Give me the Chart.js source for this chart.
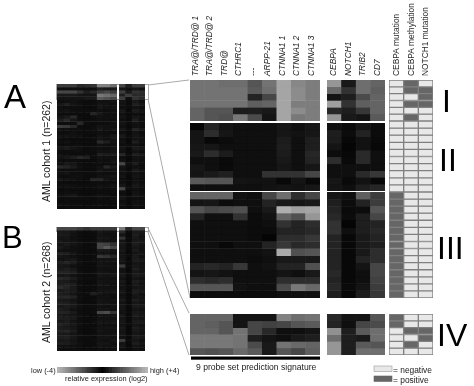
<!DOCTYPE html>
<html>
<head>
<meta charset="utf-8">
<script src="https://cdn.jsdelivr.net/npm/chart.js@4"></script>
<style>
html,body{margin:0;padding:0;background:#fff;width:474px;height:386px;overflow:hidden}
#stage{position:absolute;left:0;top:0;width:474px;height:386px;filter:blur(0.55px);font-family:"Liberation Sans",Arial,sans-serif;color:#1a1a1a}
canvas{position:absolute}
.t{position:absolute;white-space:nowrap;line-height:1}
.v{position:absolute;white-space:nowrap;line-height:1;transform-origin:0 0;transform:rotate(-90deg)}
svg{position:absolute;left:0;top:0}
</style>
</head>
<body>
<div id="stage">
<svg width="474" height="386">
<g stroke="#aaa" stroke-width="1" fill="none">
<rect x="56.5" y="84.5" width="92" height="15"/>
<rect x="56.5" y="227.5" width="92" height="4"/>
<line x1="148" y1="85" x2="189" y2="80"/>
<line x1="148" y1="99" x2="190" y2="298"/>
<line x1="148" y1="228" x2="189" y2="313"/>
<line x1="148" y1="232" x2="189" y2="355"/>
</g>
<rect x="191" y="356.500" width="129" height="3.200" fill="#000"/>
<rect x="374" y="366" width="18" height="5.500" fill="#e8e8e8" stroke="#999" stroke-width="0.6"/>
<rect x="374" y="376" width="18" height="5.500" fill="#666" stroke="#666" stroke-width="0.6"/>
</svg>
<div class="t" style="left:4px;top:80px;font-size:33px;color:#000">A</div>
<div class="t" style="left:2px;top:222px;font-size:31px;color:#000">B</div>
<div class="v" style="left:41px;top:202px;font-size:10.5px">AML cohort 1 (n=262)</div>
<div class="v" style="left:41px;top:343px;font-size:10.5px">AML cohort 2 (n=268)</div>
<div class="t" style="left:442px;top:85px;font-size:32px;color:#000">I</div>
<div class="t" style="left:439px;top:144px;font-size:32px;color:#000">II</div>
<div class="t" style="left:437px;top:232px;font-size:32px;color:#000">III</div>
<div class="t" style="left:437px;top:319px;font-size:32px;color:#000">IV</div>
<div class="t" style="left:196px;top:363px;font-size:8.6px">9 probe set prediction signature</div>
<div class="t" style="left:393px;top:366px;font-size:8.4px">= negative</div>
<div class="t" style="left:393px;top:376px;font-size:8.4px">= positive</div>
<div class="t" style="left:31px;top:367px;font-size:7.4px">low (-4)</div>
<div class="t" style="left:150px;top:367px;font-size:7.4px">high (+4)</div>
<div class="t" style="left:65px;top:375px;font-size:7.4px">relative expression (log2)</div>
</div>
<script>
// Categories
const signatureProbes = ['TRA@/TRD@ 1','TRA@/TRD@ 2','TRD@','CTHRC1','---','ARPP-21','CTNNA1 1','CTNNA1 2','CTNNA1 3'];
const geneProbes = ['CEBPA','NOTCH1','TRIB2','CD7'];
const lesionLabels = ['CEBPA mutation','CEBPA methylation','NOTCH1 mutation'];

// Cluster I-IV: signature probes (display intensity per cell)
const sigI = [
[115,115,110,110,85,115,165,135,125],
[115,115,115,115,90,110,165,140,125],
[115,115,115,115,35,70,165,140,125],
[115,115,115,115,95,100,165,125,125],
[100,85,85,28,30,25,165,140,125],
[100,85,80,120,75,20,165,120,125]];
const sigII = [
[5,35,20,15,15,15,22,15,22],
[20,45,22,15,15,15,22,18,22],
[20,8,12,15,15,15,28,15,30],
[22,22,15,15,15,15,30,15,30],
[25,45,28,15,15,15,28,15,38],
[15,15,10,15,15,15,25,15,35],
[22,15,10,15,15,15,22,15,22],
[20,25,32,15,15,50,50,50,70],
[90,85,85,20,18,18,8,20,8],
[15,15,15,15,15,18,20,18,22]];
const sigIII = [
[100,100,100,18,15,70,110,45,70],
[20,22,12,15,15,35,25,22,25],
[85,70,75,80,15,25,175,160,165],
[35,15,15,50,12,18,100,80,150],
[15,15,15,15,12,15,50,35,45],
[15,15,15,15,12,12,35,35,40],
[15,15,15,15,12,5,45,45,55],
[15,15,8,15,15,35,55,40,45],
[15,15,15,15,15,18,170,80,85],
[15,15,15,15,12,15,25,25,25],
[35,40,35,55,15,18,35,35,80],
[20,22,18,15,15,15,20,15,25],
[45,40,45,15,15,15,45,45,45],
[85,85,85,18,15,15,75,120,105],
[12,12,12,12,12,12,15,15,15]];
const sigIV = [
[100,100,100,20,20,20,130,110,115],
[100,95,85,20,70,65,70,85,90],
[100,100,85,115,70,40,15,15,20],
[120,120,120,115,30,20,15,25,30],
[120,120,120,115,75,25,115,105,100],
[85,80,85,105,90,25,85,70,95]];

// Cluster I-IV: marker genes
const genI = [[150,25,110,100],[105,50,110,95],[20,30,75,100],[160,50,95,100],[40,30,55,100],[150,25,20,90]];
const genII = [[15,10,22,12],[30,12,35,12],[28,8,18,10],[20,5,18,8],[12,8,42,15],[45,10,42,15],[15,15,15,15],[15,15,42,55],[22,10,18,8],[20,15,30,38]];
const genIII = [[22,15,95,60],[30,12,35,60],[35,10,12,85],[40,12,30,70],[50,5,30,35],[50,15,30,40],[35,8,25,35],[35,8,25,30],[35,8,25,45],[35,8,35,45],[35,8,20,70],[40,8,15,70],[35,8,15,65],[40,10,20,60],[30,8,30,55]];
const genIV = [[40,20,20,85],[35,15,70,75],[145,30,90,110],[110,30,25,110],[150,30,90,85],[150,30,110,110]];

// Cluster I-IV: lesion status (1 = positive, 0 = negative)
const lesI = [[0,1,0],[0,1,1],[0,0,1],[0,1,1],[0,0,0],[0,1,0]];
const lesII = [[0,0,0],[0,0,0],[0,0,0],[0,0,0],[0,0,0],[0,0,0],[0,0,0],[0,0,0],[0,0,0],[0,0,0]];
const lesIII = [[1,0,0],[1,0,0],[1,0,0],[1,0,0],[1,0,0],[1,0,0],[1,0,0],[1,0,0],[1,0,0],[1,0,0],[1,0,0],[1,0,0],[1,0,0],[1,0,0],[1,0,0]];
const lesIV = [[1,0,0],[1,0,0],[0,1,1],[0,0,1],[0,1,0],[0,0,0]];

// Overview cohort 1 (9 signature + 4 gene columns)
const overviewA = [
[60,60,60,40,45,50,130,130,110,70,30,60,60],
[15,15,15,15,15,15,30,25,25,20,15,20,15],
[70,70,70,50,30,40,60,70,60,60,25,50,45],
[25,25,25,20,20,20,120,110,100,30,60,40,40],
[20,20,20,20,25,25,90,80,70,60,15,50,40],
[14,16,18,14,12,12,18,16,20,20,12,24,16],
[22,30,20,16,12,14,20,18,16,18,10,30,22],
[16,14,14,14,12,12,22,18,20,14,12,18,14],
[18,20,16,14,14,14,16,14,18,24,10,26,20],
[14,14,12,12,12,36,24,16,18,16,10,14,12],
[20,26,40,14,12,14,18,16,20,20,12,22,18],
[30,40,22,14,12,14,16,16,16,14,10,30,16],
[14,14,14,40,14,12,14,14,18,20,12,18,14],
[60,56,40,14,12,14,20,18,18,16,10,16,14],
[16,16,14,14,12,14,24,18,22,22,12,34,24],
[14,14,16,14,14,14,16,14,14,14,10,18,12],
[18,20,18,16,12,12,18,16,24,24,12,20,14],
[14,12,12,12,12,14,20,16,22,16,10,18,16],
[16,18,14,14,14,14,42,30,20,18,10,30,18],
[12,14,14,14,12,12,16,14,16,14,12,16,12],
[22,26,20,16,12,14,16,14,18,20,10,24,22],
[14,14,14,14,12,14,18,16,20,16,10,18,14],
[16,14,12,12,14,12,30,26,28,36,12,30,24],
[20,24,30,40,34,14,18,16,18,14,10,18,16],
[14,14,14,12,12,12,16,14,20,18,10,18,14],
[16,24,22,14,12,14,14,14,16,70,16,28,14],
[40,36,28,16,14,14,18,40,26,20,12,16,14],
[14,14,14,14,12,12,20,16,18,18,10,26,18],
[18,20,14,14,14,14,16,14,16,16,12,18,14],
[14,14,16,16,12,12,18,18,22,20,10,20,16],
[22,20,18,14,12,36,36,20,18,14,10,16,12],
[14,12,12,12,12,14,14,14,16,16,10,18,14],
[16,18,16,14,14,14,18,16,22,22,12,24,18],
[12,14,14,14,12,12,16,14,18,70,14,16,14],
[14,16,14,12,12,12,14,14,16,14,10,18,14],
[18,20,22,14,12,14,18,16,14,16,10,20,16],
[14,14,14,14,14,12,16,14,18,20,12,14,12],
[12,14,12,12,12,12,14,14,16,14,10,16,14],
[16,16,14,14,12,14,16,14,14,18,10,18,14],
[12,12,12,12,12,12,12,12,14,12,10,14,12]];

// Overview cohort 2
const overviewB = [
[70,70,70,60,50,60,60,60,60,120,40,70,70],
[24,24,20,14,12,14,24,20,20,40,12,26,24],
[28,26,18,14,12,14,20,18,18,20,10,30,20],
[20,22,16,14,12,12,24,22,18,50,12,24,18],
[24,20,18,14,12,14,22,18,20,20,10,24,24],
[20,26,20,16,12,12,70,64,50,24,12,28,20],
[26,20,16,14,12,14,70,90,70,20,12,22,18],
[18,16,16,14,12,12,26,24,22,24,10,26,18],
[34,30,22,14,12,14,20,20,18,18,10,20,22],
[22,20,16,14,12,12,56,50,40,20,12,26,16],
[18,22,24,14,12,14,18,18,20,22,10,28,24],
[30,36,28,16,12,12,20,18,18,18,10,20,18],
[24,22,16,14,12,14,22,20,20,60,14,24,20],
[26,30,24,14,12,12,18,16,18,20,10,30,22],
[36,34,30,16,12,14,20,18,16,18,10,22,18],
[22,24,18,14,12,12,22,20,22,24,12,26,24],
[40,36,28,16,14,14,18,18,16,18,10,20,16],
[28,26,20,14,12,12,20,18,20,24,10,28,22],
[30,34,30,16,12,14,22,20,18,20,10,24,18],
[44,36,26,14,12,12,18,16,18,18,12,20,20],
[26,30,26,14,12,14,20,20,22,22,10,28,24],
[30,26,20,14,14,30,22,18,18,20,10,24,16],
[38,40,34,16,12,12,18,18,16,18,10,20,20],
[26,24,20,14,12,14,20,18,20,26,12,30,22],
[32,30,24,14,12,12,22,20,18,18,10,22,18],
[24,28,24,16,12,14,18,16,20,22,10,26,24],
[30,26,18,14,12,12,20,20,18,20,10,20,16],
[36,34,26,14,12,14,70,76,50,18,12,24,20],
[26,24,22,16,14,12,20,18,20,24,10,28,22],
[30,30,26,14,12,12,18,18,18,20,10,22,18],
[24,28,20,14,12,14,22,20,22,22,10,26,24],
[34,30,24,16,12,12,18,16,16,18,12,20,16],
[28,26,22,14,12,14,20,20,20,24,10,28,22],
[36,38,28,14,12,12,22,18,18,20,10,24,20],
[26,24,20,16,12,14,18,18,20,22,10,22,18],
[30,32,24,14,14,12,20,20,18,18,10,26,24],
[24,26,20,14,12,14,18,16,22,60,14,22,16],
[30,28,22,16,12,12,22,20,18,20,10,28,22],
[18,18,16,14,12,14,20,18,20,22,10,20,18],
[16,14,14,12,12,12,14,14,16,14,10,16,14]];

// Colour scale legend
const scaleValues = [-4,-3.75,-3.5,-3.25,-3,-2.75,-2.5,-2.25,-2,-1.75,-1.5,-1.25,-1,-0.75,-0.5,-0.25,0,0.25,0.5,0.75,1,1.25,1.5,1.75,2,2.25,2.5,2.75,3,3.25,3.5,3.75,4];

const gray = v => `rgb(${v},${v},${v})`;
const stage = document.getElementById('stage');

function heatmap(box, columns, rows, opt) {
  opt = opt || {};
  const cv = document.createElement('canvas');
  cv.width = box.w; cv.height = box.h;
  cv.style.left = box.x + 'px'; cv.style.top = box.y + 'px';
  stage.appendChild(cv);
  const toColor = opt.color || gray;
  const datasets = rows.map((row, r) => ({
    data: row.map(() => [r, r + 1]),
    backgroundColor: row.map(toColor),
    borderColor: opt.border || row.map(toColor),
    borderWidth: opt.border ? 1 : 0.4,
    borderSkipped: false,
    barPercentage: 1,
    categoryPercentage: 1,
    grouped: false
  }));
  const topSpace = opt.topSpace || 0;
  return new Chart(cv, {
    type: 'bar',
    data: { labels: columns, datasets },
    options: {
      responsive: false, animation: false, devicePixelRatio: 1,
      layout: { padding: 0 },
      plugins: { legend: { display: false }, tooltip: { enabled: false } },
      scales: {
        x: {
          position: 'top', offset: true,
          display: topSpace > 0,
          grid: { display: false }, border: { display: false },
          afterFit: s => { s.paddingLeft = 0; s.paddingRight = 0; if (topSpace) s.height = topSpace; },
          ticks: {
            autoSkip: false, minRotation: 90, maxRotation: 90, padding: -4,
            color: '#2a2a2a', labelOffset: opt.labelShift || 0,
            font: { family: '"Liberation Sans"', size: 8.4, style: opt.italic ? 'italic' : 'normal' }
          }
        },
        y: { display: false, reverse: true, min: 0, max: rows.length }
      }
    }
  });
}

const statusColor = v => v ? '#666' : '#e8e8e8';
const lineGray = '#808080';

// Main blocks
heatmap({x:190,y:0,w:130,h:121}, signatureProbes, sigI, {topSpace:80, italic:true, labelShift:8.5});
heatmap({x:190,y:123,w:130,h:68}, signatureProbes, sigII);
heatmap({x:190,y:192,w:130,h:106}, signatureProbes, sigIII);
heatmap({x:190,y:314,w:130,h:41}, signatureProbes, sigIV);

heatmap({x:327,y:0,w:58,h:121}, geneProbes, genI, {topSpace:80, italic:true, labelShift:9.5});
heatmap({x:327,y:123,w:58,h:68}, geneProbes, genII);
heatmap({x:327,y:192,w:58,h:106}, geneProbes, genIII);
heatmap({x:327,y:314,w:58,h:41}, geneProbes, genIV);

heatmap({x:389,y:0,w:44,h:121}, lesionLabels, lesI, {topSpace:80, color:statusColor, border:lineGray, labelShift:10.5});
heatmap({x:389,y:121,w:44,h:71}, lesionLabels, lesII, {color:statusColor, border:lineGray});
heatmap({x:389,y:192,w:44,h:106}, lesionLabels, lesIII, {color:statusColor, border:lineGray});
heatmap({x:389,y:314,w:44,h:41}, lesionLabels, lesIV, {color:statusColor, border:lineGray});

// Overviews
const sigPart = rows => rows.map(r => r.slice(0, 9));
const genPart = rows => rows.map(r => r.slice(9));
heatmap({x:57,y:84,w:60,h:125}, signatureProbes, sigPart(overviewA));
heatmap({x:119,y:84,w:26,h:125}, geneProbes, genPart(overviewA));
heatmap({x:57,y:227,w:60,h:124}, signatureProbes, sigPart(overviewB));
heatmap({x:119,y:227,w:26,h:124}, geneProbes, genPart(overviewB));

// Colour bar
heatmap({x:57,y:367,w:91,h:6}, scaleValues, [scaleValues], {color: v => gray(Math.round(Math.abs(v) * 45))});
</script>
</body>
</html>
